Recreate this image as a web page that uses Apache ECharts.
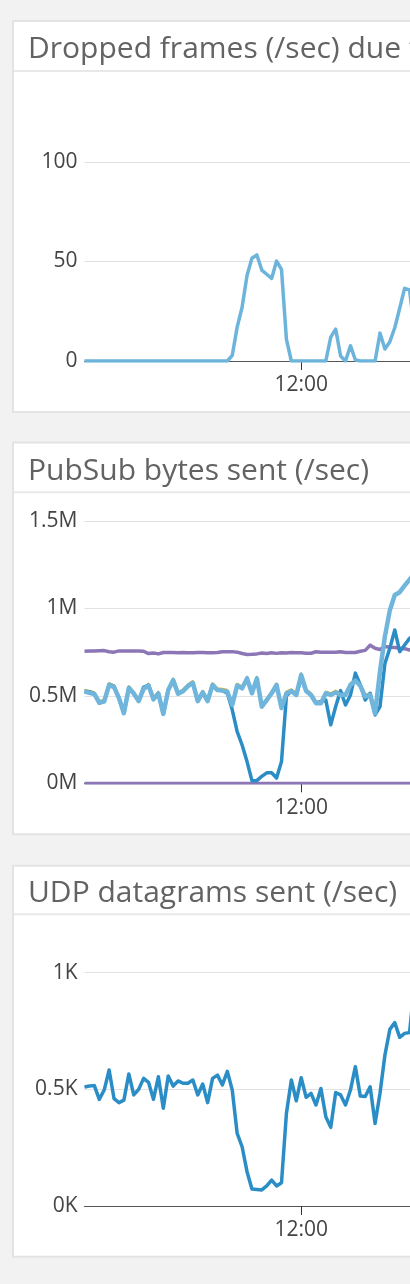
<!DOCTYPE html>
<html>
<head>
<meta charset="utf-8">
<script src="https://cdn.jsdelivr.net/npm/echarts@6/dist/echarts.min.js"></script>
<style>
  html, body { margin: 0; padding: 0; overflow: hidden; background: #f2f2f2; width: 410px; height: 1284px; }
  #chart { position: absolute; left: 0; top: 0; width: 430px; height: 1284px; }
</style>
</head>
<body>
<div id="chart"></div>
<script>
// ---- data (one sample per minute, 11:16 .. 12:23) ----
const startMinute = 11 * 60 + 16;
const times = [];
for (let i = 0; i < 68; i++) {
  const m = startMinute + i;
  times.push(String(Math.floor(m / 60)).padStart(2, '0') + ':' + String(m % 60).padStart(2, '0'));
}
const tickTimes = ['12:00'];

const panelTitles = ['Dropped frames (/sec) due to', 'PubSub bytes sent (/sec)', 'UDP datagrams sent (/sec)'];

// Panel 1: dropped frames (/sec)
const droppedFrames = [
  0,0,0,0,0,0,0,0,0,0,
  0,0,0,0,0,0,0,0,0,0,
  0,0,0,0,0,0,0,0,0,0,
  2.8,17,27,43,51.6,53.3,45.7,43.6,41.5,50.2,
  46,10.9,0,0,0,0,0,0,0,0,
  12,16,2.5,0,7.7,0.5,0,0,0,0,
  14,6,9.7,16.7,26.5,36.5,35.7,15
];
const droppedTicks = ['0', '50', '100'];

// Panel 2: PubSub bytes sent (/sec), in millions
const pubsubPurpleHigh = [
  0.755,0.757,0.756,0.758,0.759,0.752,0.75,0.757,0.757,0.756,
  0.757,0.757,0.755,0.742,0.745,0.74,0.748,0.748,0.748,0.746,
  0.748,0.747,0.746,0.748,0.748,0.747,0.747,0.748,0.752,0.752,
  0.753,0.75,0.742,0.737,0.738,0.74,0.745,0.742,0.746,0.743,
  0.747,0.745,0.748,0.747,0.746,0.744,0.744,0.752,0.75,0.75,
  0.749,0.749,0.752,0.748,0.748,0.748,0.755,0.76,0.79,0.772,
  0.765,0.782,0.778,0.776,0.772,0.77,0.762,0.76
];
const pubsubPurpleZero = [
  0,0,0,0,0,0,0,0,0,0,
  0,0,0,0,0,0,0,0,0,0,
  0,0,0,0,0,0,0,0,0,0,
  0,0,0,0,0,0,0,0,0,0,
  0,0,0,0,0,0,0,0,0,0,
  0,0,0,0,0,0,0,0,0,0,
  0,0,0,0,0,0,0,0
];
const pubsubYellow = [
  0.536,0.530,0.523,0.474,0.480,0.575,0.562,0.499,0.413,0.558,
  0.526,0.482,0.552,0.572,0.492,0.526,0.409,0.545,0.602,0.524,
  0.539,0.568,0.587,0.482,0.532,0.482,0.575,0.545,0.542,0.536,
  0.460,0.572,0.555,0.612,0.527,0.612,0.450,0.488,0.527,0.574,
  0.442,0.527,0.540,0.517,0.632,0.540,0.517,0.470,0.470,0.527,
  0.517,0.532,0.517,0.517,0.574,0.599,0.570,0.508,0.517,0.4,
  0.64,0.84,0.99,1.077,1.093,1.13,1.165,1.2
];
const pubsubDarkBlue = [
  0.526,0.524,0.511,0.458,0.468,0.565,0.555,0.487,0.401,0.546,
  0.514,0.47,0.55,0.56,0.48,0.514,0.397,0.533,0.59,0.512,
  0.527,0.556,0.575,0.47,0.52,0.47,0.563,0.533,0.53,0.515,
  0.42,0.296,0.219,0.124,0.015,0.015,0.04,0.06,0.06,0.03,
  0.124,0.5,0.528,0.505,0.6,0.528,0.505,0.458,0.467,0.476,
  0.334,0.439,0.53,0.448,0.505,0.63,0.562,0.476,0.515,0.391,
  0.439,0.686,0.772,0.877,0.753,0.791,0.829,0.85
];
const pubsubLightBlue = [
  0.524,0.518,0.511,0.462,0.468,0.563,0.55,0.487,0.401,0.546,
  0.514,0.47,0.54,0.56,0.48,0.514,0.397,0.533,0.59,0.512,
  0.527,0.556,0.575,0.47,0.52,0.47,0.563,0.533,0.53,0.524,
  0.448,0.56,0.543,0.6,0.515,0.6,0.438,0.476,0.515,0.562,
  0.43,0.515,0.528,0.505,0.62,0.528,0.505,0.458,0.458,0.515,
  0.505,0.52,0.505,0.505,0.562,0.587,0.558,0.496,0.505,0.4,
  0.64,0.84,0.99,1.077,1.093,1.13,1.165,1.2
];
const pubsubTicks = ['0M', '0.5M', '1M', '1.5M'];

// Panel 3: UDP datagrams sent (/sec)
const udpSent = [
  510,514,516,457,497,583,460,443,454,566,
  476,500,547,530,457,554,419,557,514,536,
  526,526,540,476,523,443,547,561,519,577,
  497,311,254,147,73,71,69,86,111,86,
  100,397,540,451,550,466,483,433,504,383,
  337,486,476,433,497,597,471,469,511,354,
  483,647,757,786,723,740,744,950
];
const udpTicks = ['0K', '0.5K', '1K'];

// ---- layout ----
const FONT = '"Open Sans", "Noto Sans", sans-serif';
const panels = [
  { top: 21, sep: 71, bottom: 412, titleY: 49.2 },
  { top: 442.5, sep: 492.3, bottom: 834.3, titleY: 471.6 },
  { top: 865.7, sep: 914.3, bottom: 1256.7, titleY: 893.2 }
];
const grids = [
  { left: 84.5, top: 162, height: 199, width: 67 * 4.925 },
  { left: 84.5, top: 521, height: 262.3, width: 67 * 4.925 },
  { left: 84.5, top: 972.7, height: 233.3, width: 67 * 4.925 }
];

const graphics = [];
panels.forEach((p, i) => {
  graphics.push({
    type: 'rect', z: -10, silent: true,
    shape: { x: 13, y: p.top, width: 440, height: p.bottom - p.top },
    style: { fill: '#ffffff', stroke: '#e3e3e3', lineWidth: 2 }
  });
  graphics.push({
    type: 'line', z: -9, silent: true,
    shape: { x1: 14, y1: p.sep, x2: 452, y2: p.sep },
    style: { stroke: '#e8e8e8', lineWidth: 2 }
  });
  graphics.push({
    type: 'text', z: -8, silent: true,
    x: 28, y: p.titleY,
    style: { text: panelTitles[i], font: '30px ' + FONT, fill: '#636363', verticalAlign: 'middle', align: 'left' }
  });
});

const isTick = (idx, val) => tickTimes.indexOf(val) >= 0;
function xAxisFor(gi) {
  return {
    type: 'category', gridIndex: gi, data: times, boundaryGap: false,
    axisLine: { show: true, lineStyle: { color: '#555555', width: 1 } },
    axisTick: { show: true, interval: isTick, length: 9, lineStyle: { color: '#333333', width: 1 } },
    axisLabel: { interval: isTick, fontFamily: FONT, fontSize: 21, color: '#444444', margin: 14 },
    splitLine: { show: false }
  };
}
function yAxisFor(gi, max, interval, labels) {
  return {
    type: 'value', gridIndex: gi, min: 0, max: max, interval: interval,
    axisLine: { show: false }, axisTick: { show: false },
    splitLine: { show: true, lineStyle: { color: '#e2e2e2', width: 1 } },
    axisLabel: {
      fontFamily: FONT, fontSize: 21, color: '#444444', margin: 7,
      formatter: (v) => labels[Math.round(v / interval)]
    }
  };
}
function line(name, gi, data, color, width) {
  return {
    name: name, type: 'line', xAxisIndex: gi, yAxisIndex: gi, data: data,
    showSymbol: false, symbol: 'none', smooth: false, clip: true,
    lineStyle: { color: color, width: width, join: 'round' },
    itemStyle: { color: color }, emphasis: { disabled: true }
  };
}

const chart = echarts.init(document.getElementById('chart'), null, { renderer: 'canvas' });
chart.setOption({
  animation: false,
  backgroundColor: 'transparent',
  graphic: { elements: graphics },
  grid: grids,
  xAxis: [xAxisFor(0), xAxisFor(1), xAxisFor(2)],
  yAxis: [
    yAxisFor(0, 100, 50, droppedTicks),
    yAxisFor(1, 1.5, 0.5, pubsubTicks),
    yAxisFor(2, 1000, 500, udpTicks)
  ],
  series: [
    line('dropped', 0, droppedFrames, '#6cb4db', 3.5),
    line('purple high', 1, pubsubPurpleHigh, '#8c76b6', 3.5),
    line('purple zero', 1, pubsubPurpleZero, '#8c76b6', 3),
    line('yellow', 1, pubsubYellow, '#e6b62c', 1.5),
    line('dark blue', 1, pubsubDarkBlue, '#2b8dc6', 3.5),
    line('light blue', 1, pubsubLightBlue, '#70b6dc', 4.5),
    line('udp', 2, udpSent, '#2b8dc6', 3.5)
  ]
});
</script>
</body>
</html>
